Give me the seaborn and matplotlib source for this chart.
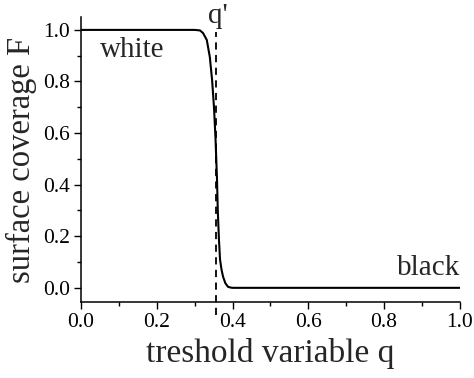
import matplotlib
matplotlib.use("Agg")
import matplotlib.pyplot as plt
import seaborn as sns
import pandas as pd
from matplotlib.ticker import MultipleLocator

q = [0.0, 0.10, 0.20, 0.30, 0.314, 0.322, 0.332, 0.340, 0.346, 0.351, 0.355, 0.359, 0.361, 0.364, 0.367, 0.371, 0.375, 0.381, 0.388, 0.395, 0.401, 0.5, 0.6, 0.7, 0.8, 0.9, 1.0]
F = [1.0, 1.0, 1.0, 1.0, 0.998, 0.988, 0.961, 0.895, 0.806, 0.70, 0.58, 0.419, 0.30, 0.19, 0.109, 0.07, 0.043, 0.018, 0.004, 0.001, 0.0, 0.0, 0.0, 0.0, 0.0, 0.0, 0.0]
q_prime = 0.356

sns.set_style("ticks")
plt.rcParams['font.family'] = ['Liberation Serif', 'DejaVu Serif']

df = pd.DataFrame({"q": q, "F": F})
fig = plt.figure(figsize=(4.74, 3.78), dpi=100)
ax = fig.add_axes([0.171, 0.201, 0.799, 0.754])
sns.lineplot(data=df, x="q", y="F", ax=ax, color="black", linewidth=1.5)
ax.vlines(q_prime, -0.105, 0.99, color="black", linestyle=(0, (4, 3)), linewidth=1.3, clip_on=False)

ax.set_xlim(0, 1.0)
ax.set_ylim(-0.055, 1.05)
ax.xaxis.set_major_locator(MultipleLocator(0.2))
ax.xaxis.set_minor_locator(MultipleLocator(0.1))
ax.yaxis.set_major_locator(MultipleLocator(0.2))
ax.yaxis.set_minor_locator(MultipleLocator(0.1))
ax.set_xticklabels([f"{v:.1f}" for v in ax.get_xticks()])
ax.set_yticklabels([f"{v:.1f}" for v in ax.get_yticks()])
ax.tick_params(which="major", direction="out", length=5, width=1, labelsize=15.5, color="black", labelcolor="black", pad=3)
ax.tick_params(which="minor", direction="out", length=3, width=1, color="black")
for s in ["left", "bottom"]:
    ax.spines[s].set_linewidth(1.1)
    ax.spines[s].set_color("black")
sns.despine(ax=ax)

ax.set_xlabel("treshold variable q", fontsize=24, labelpad=4)
ax.set_ylabel("surface coverage F", fontsize=23.5, labelpad=4)

ax.text(0.05, 0.922, "white", fontsize=21, ha="left", va="center")
ax.text(1.0, 0.078, "black", fontsize=21, ha="right", va="center")
ax.text(q_prime + 0.005, 1.055, "q'", fontsize=21, ha="center", va="center", clip_on=False)

fig.savefig("out.png", dpi=100)
